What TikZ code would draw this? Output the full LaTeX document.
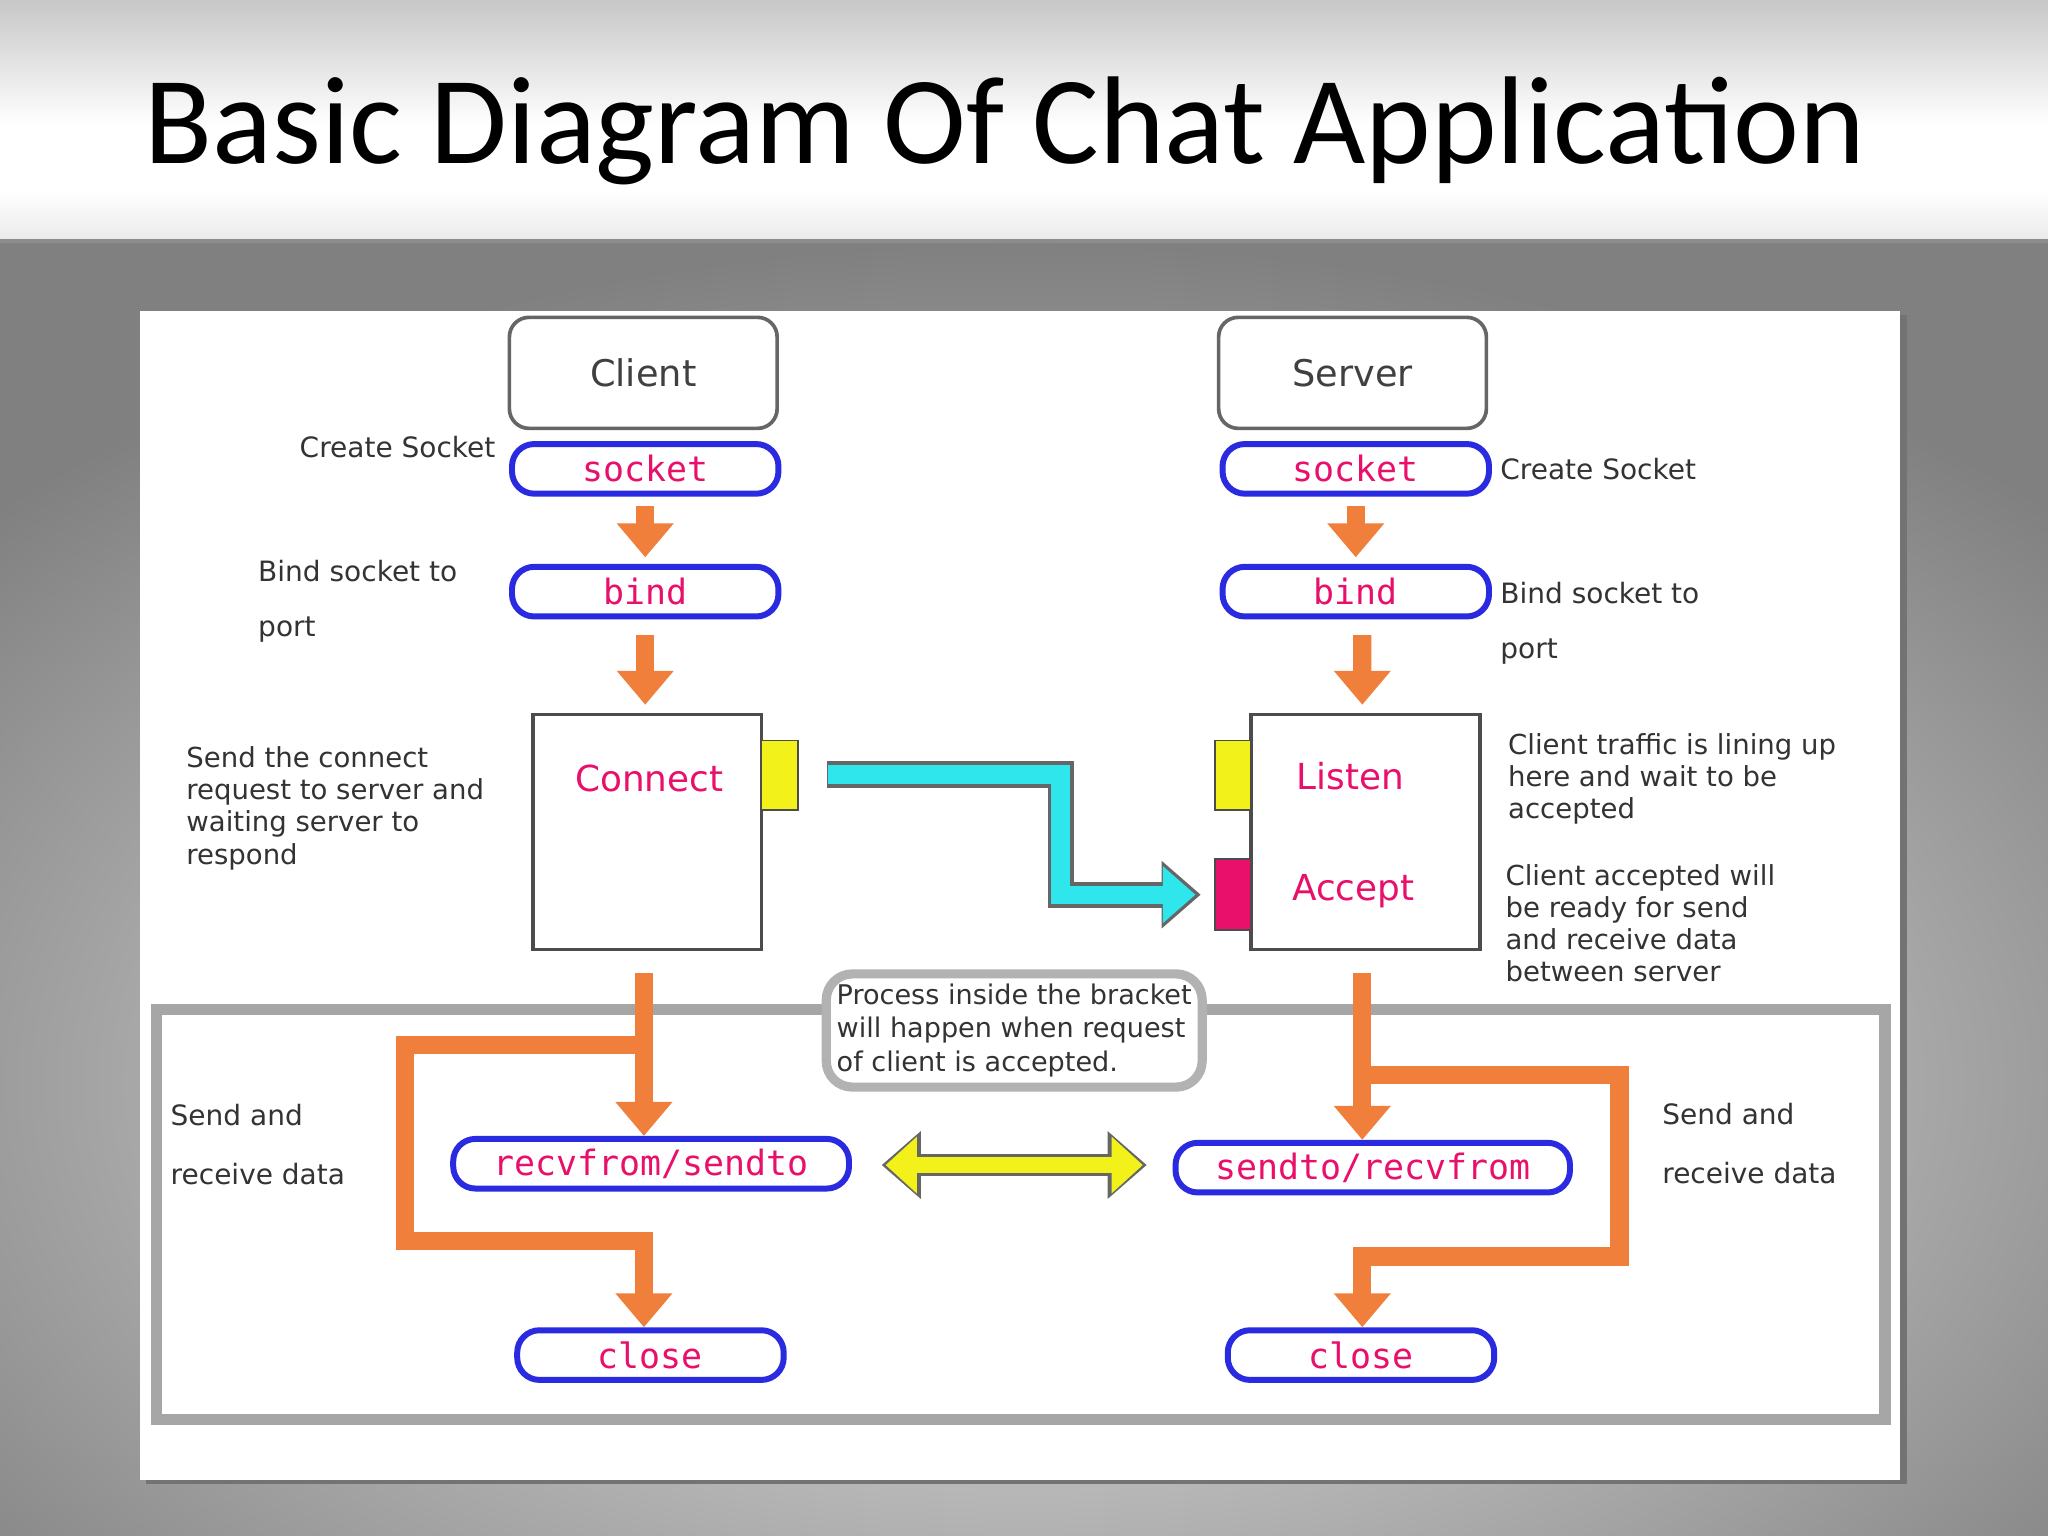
\documentclass[tikz,border=0pt]{standalone}
\usepackage{fontspec}
\setmainfont{DejaVu Sans}
\newfontfamily\titlefont{Carlito}
\newfontfamily\monof{DejaVu Sans Mono}
\usetikzlibrary{arrows.meta,shadows}
\definecolor{orng}{HTML}{F07F3C}
\definecolor{mag}{HTML}{E8106A}
\definecolor{pillblue}{HTML}{2A2AE0}
\definecolor{cyn}{HTML}{2EE6EC}
\definecolor{ylw}{HTML}{F2F21A}
\tikzset{
 pill/.style={draw=pillblue,line width=1.3pt,rounded corners=0.17cm,minimum width=2.04cm,minimum height=0.38cm,inner sep=0pt,text=mag,font=\monof\fontsize{7.6}{8}\selectfont},
 hdr/.style={draw=black!60,line width=0.8pt,rounded corners=0.15cm,minimum width=2.05cm,minimum height=0.85cm,text=black!75,font=\fontsize{8}{8}\selectfont},
 lbl/.style={font=\fontsize{6.1}{7.4}\selectfont,text=black!80,inner sep=0pt,align=left},
 fat/.style={draw=orng,line width=0.14cm,-{Triangle[length=0.26cm,width=0.42cm]}},
 fatl/.style={draw=orng,line width=0.14cm},
}
\begin{document}
\begin{tikzpicture}[x=1cm,y=1cm]
\useasboundingbox (0,0) rectangle (15.68,11.76);
\shade[inner color=black!8,outer color=black!50] (-3,-3) rectangle (18.68,9.93);
\fill[black!45] (0,9.90) rectangle (15.68,9.93);
\shade[top color=black!22,bottom color=white] (0,10.8) rectangle (15.68,11.76);
\fill[white] (0,9.93) rectangle (15.68,10.8);
\shade[top color=white,bottom color=black!8] (0,9.93) rectangle (15.68,10.3);
\node[font=\titlefont\fontsize{27.2}{30}\selectfont,anchor=west,inner sep=0] (title) at (1.10,10.76) {Basic Diagram Of Chat Application};
% panel
\fill[black!55] (1.12,0.40) rectangle (14.60,9.35);
\fill[white] (1.07,0.43) rectangle (14.55,9.38);
% bracket
\draw[black!35,line width=2.5pt] (1.20,0.89) rectangle (14.43,4.03);
% headers
\node[hdr] (client) at (4.925,8.905) {Client};
\node[hdr] (server) at (10.355,8.905) {Server};
\node[pill] (csock) at (4.94,8.17) {socket};
\node[pill] (ssock) at (10.38,8.17) {socket};
\node[pill] (cbind) at (4.94,7.23) {bind};
\node[pill] (sbind) at (10.38,7.23) {bind};
% main boxes
\node[draw=black!70,line width=0.8pt,minimum width=1.75cm,minimum height=1.8cm,inner sep=0] (cbox) at (4.955,5.39) {};
\node[draw=black!70,line width=0.8pt,minimum width=1.75cm,minimum height=1.8cm,inner sep=0] (sbox) at (10.455,5.39) {};
\node[text=mag,font=\fontsize{7.8}{8}\selectfont] (conn) at (4.97,5.80) {Connect};
\node[text=mag,font=\fontsize{7.8}{8}\selectfont] (listen) at (10.34,5.82) {Listen};
\node[text=mag,font=\fontsize{7.8}{8}\selectfont] (accept) at (10.36,4.94) {Accept};
\node[draw=black!70,fill=ylw,minimum width=0.28cm,minimum height=0.53cm,inner sep=0] (ctab) at (5.97,5.825) {};
\node[draw=black!70,fill=ylw,minimum width=0.28cm,minimum height=0.53cm,inner sep=0] (stab) at (9.44,5.825) {};
\node[draw=black!70,fill=mag,minimum width=0.28cm,minimum height=0.54cm,inner sep=0] (atab) at (9.44,4.91) {};
% cyan arrow
\coordinate (cy1) at (8.12,5.83);
\coordinate (cy2) at (8.12,4.91);
\draw[black!60,line width=0.2cm,-{Triangle[length=0.3cm,width=0.5cm]},shorten >=0.1cm] (6.33,5.83) -- (cy1) -- (cy2) -- (atab.west);
\draw[cyn,line width=0.14cm,-{Triangle[length=0.25cm,width=0.42cm]},shorten >=0.14cm] (6.34,5.83) -- (cy1) -- (cy2) -- (atab.west);
% bottom pills
\node[pill,minimum width=3.03cm] (crecv) at (4.985,2.85) {recvfrom/sendto};
\node[pill,minimum width=3.02cm] (ssend) at (10.51,2.82) {sendto/recvfrom};
\node[pill] (cclose) at (4.98,1.385) {close};
\node[pill] (sclose) at (10.42,1.385) {close};
% orange arrows
\draw[fat,shorten <=0.07cm,shorten >=0.05cm] (csock) -- (cbind);
\draw[fat,shorten <=0.07cm,shorten >=0.05cm] (ssock) -- (sbind);
\draw[fat,shorten <=0.12cm,shorten >=0.06cm] (cbind.south) -- (cbox.north -| cbind.south);
\draw[fat,shorten <=0.12cm,shorten >=0.06cm] (sbind.south) ++(0.05,0) -- (sbox.north -| 10.43,0);
\coordinate (ct) at (4.93,4.31);
\coordinate (cj) at (4.93,3.76);
\coordinate (cl1) at (3.10,3.76);
\coordinate (cl2) at (3.10,2.26);
\coordinate (cj2) at (4.93,2.26);
\draw[fat] (ct) -- (crecv.north -| ct);
\draw[fatl] (cj) -- (cl1) -- (cl2) -- (cj2);
\draw[fat] (4.93,2.33) -- (cclose.north -| ct);
\coordinate (st) at (10.43,4.31);
\coordinate (sj) at (10.43,3.53);
\coordinate (sr1) at (12.40,3.53);
\coordinate (sr2) at (12.40,2.14);
\coordinate (sj2) at (10.43,2.14);
\draw[fat] (st) -- (ssend.north -| st);
\draw[fatl] (sj) -- (sr1) -- (sr2) -- (sj2);
\draw[fat] (10.43,2.21) -- (sclose.north -| st);
% yellow double arrow
\coordinate (ya) at (6.75,2.84);
\coordinate (yb) at (8.78,2.84);
\draw[black!60,line width=0.17cm,{Triangle[length=0.3cm,width=0.5cm]}-{Triangle[length=0.3cm,width=0.5cm]}] (ya) -- (yb);
\draw[ylw,line width=0.12cm,{Triangle[length=0.24cm,width=0.42cm]}-{Triangle[length=0.24cm,width=0.42cm]},shorten <=0.03cm,shorten >=0.03cm] (ya) -- (yb);
% callout
\node[draw=black!30,fill=white,line width=2pt,rounded corners=0.2cm,lbl,inner sep=0.08cm,font=\fontsize{5.9}{7.2}\selectfont] (note) at (7.765,3.87) {Process inside the bracket\\will happen when request\\of client is accepted.};
% labels
\node[lbl,anchor=east] (l1) at (3.80,8.34) {Create Socket};
\node[lbl,anchor=west] (l2) at (1.97,7.39) {Bind socket to};
\node[lbl,anchor=west] (l3) at (1.97,6.94) {port};
\node[lbl,anchor=north west,font=\fontsize{6.0}{7.0}\selectfont] (l4) at (1.42,6.05) {Send the connect\\request to server and\\waiting server to\\respond};
\node[lbl,anchor=west] (r1) at (11.48,8.17) {Create Socket};
\node[lbl,anchor=west] (r2) at (11.48,7.22) {Bind socket to};
\node[lbl,anchor=west] (r3) at (11.48,6.77) {port};
\node[lbl,anchor=north west,font=\fontsize{6.0}{7.0}\selectfont] (r4) at (11.54,6.15) {Client traffic is lining up\\here and wait to be\\accepted};
\node[lbl,anchor=north west,font=\fontsize{6.0}{7.0}\selectfont] (r5) at (11.52,5.15) {Client accepted will\\be ready for send\\and receive data\\between server};
\node[lbl,anchor=west] (s1) at (1.30,3.22) {Send and};
\node[lbl,anchor=west] (s2) at (1.30,2.77) {receive data};
\node[lbl,anchor=west] (s3) at (12.72,3.23) {Send and};
\node[lbl,anchor=west] (s4) at (12.72,2.78) {receive data};
\end{tikzpicture}
\end{document}
